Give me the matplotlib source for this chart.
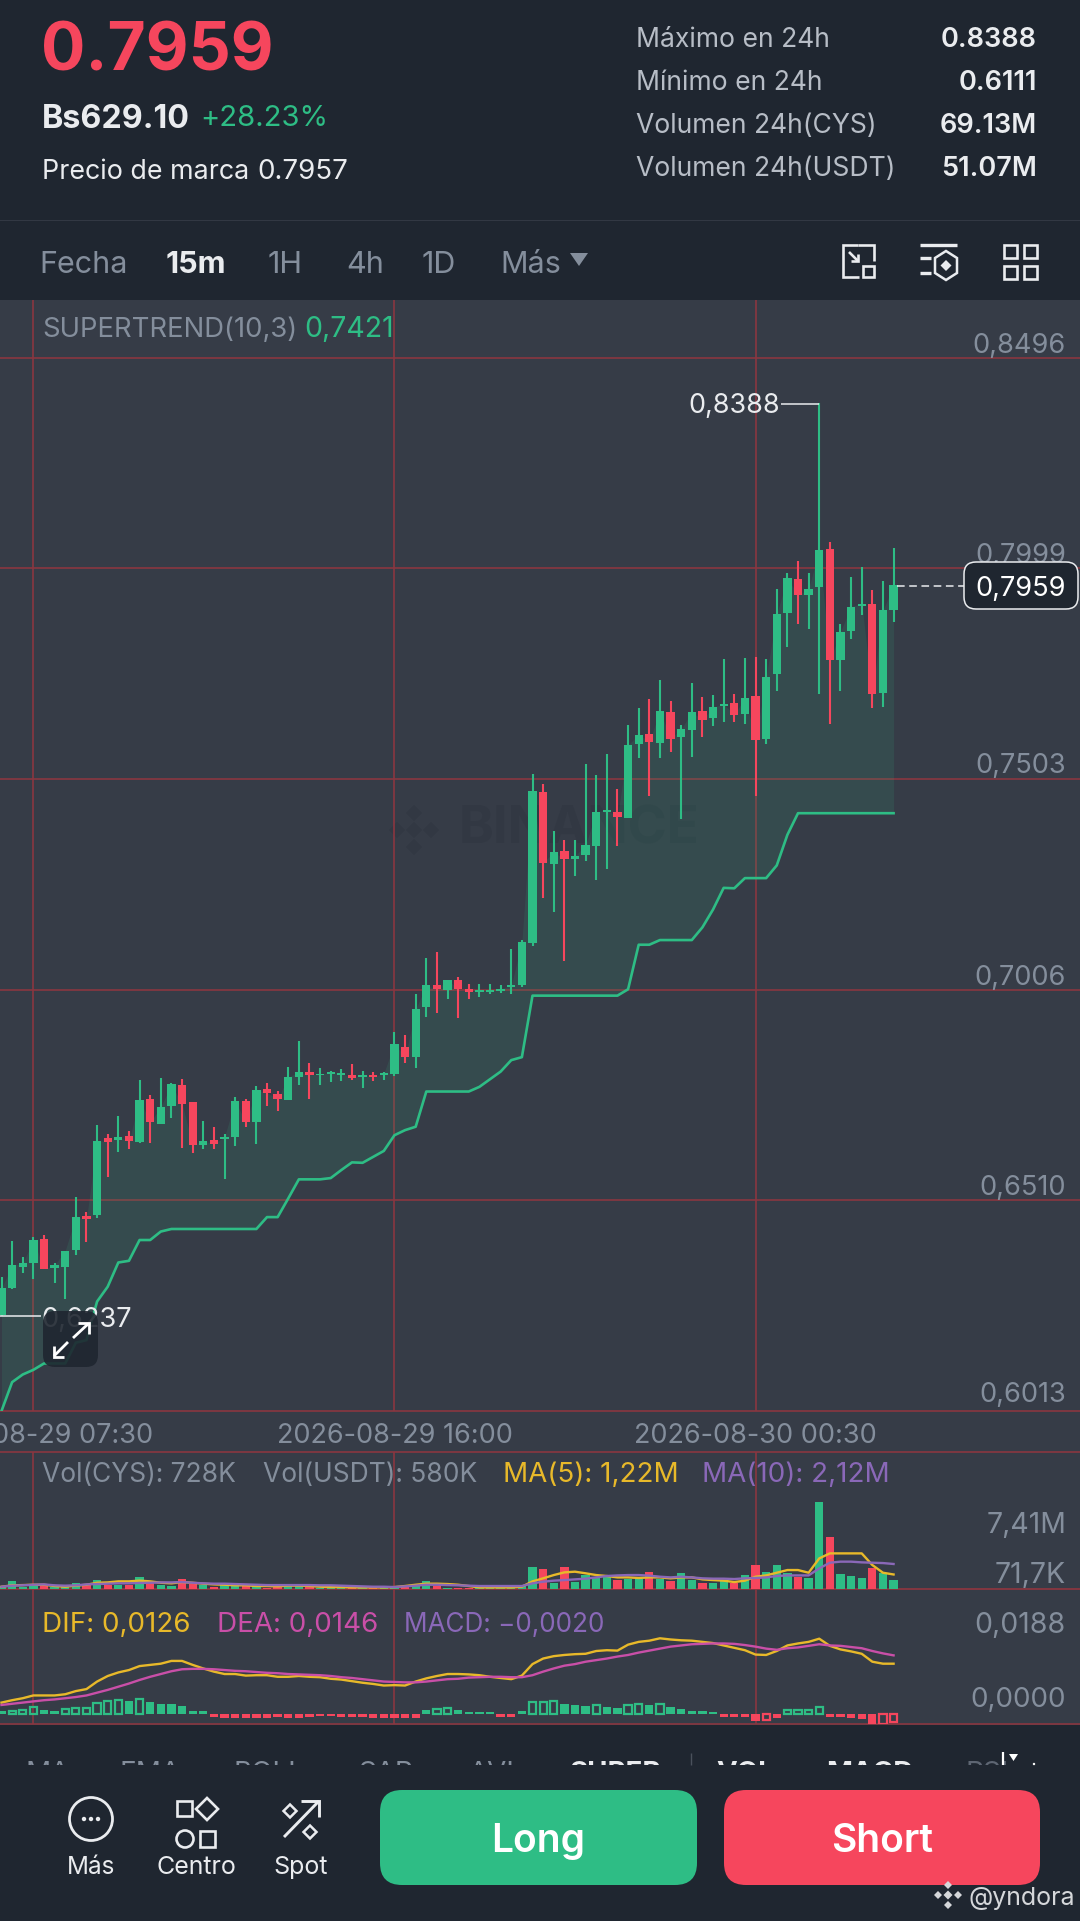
import matplotlib
matplotlib.use("Agg")
import matplotlib.pyplot as plt
from matplotlib.patches import FancyBboxPatch, Rectangle, Circle, Polygon
import numpy as np

plt.rcParams['font.family'] = ['Inter', 'DejaVu Sans']

opens = [.6239,.6302,.6353,.6363,.6418,.6349,.6353,.6392,.6473,.6475,.6656,.6652,.6660,.6648,.6749,.6690,.6732,.6782,.6741,.6641,.6651,.6653,.6659,.6744,.6693,.6771,.6760,.6747,.6801,.6812,.6804,.6807,.6806,.6806,.6800,.6806,.6806,.6807,.6871,.6847,.6965,.7016,.7005,.7030,.7008,.7001,.7001,.7004,.7012,.7016,.7117,.7471,.7303,.7334,.7315,.7323,.7345,.7425,.7426,.7411,.7584,.7609,.7587,.7661,.7601,.7617,.7662,.7646,.7674,.7681,.7655,.7698,.7597,.7751,.7894,.7974,.7936,.7956,.8045,.7783,.7851,.7910,.7915,.7705,.7902]
highs = [.6328,.6414,.6377,.6422,.6429,.6363,.6391,.6517,.6483,.6687,.6666,.6709,.6674,.6794,.6758,.6797,.6785,.6795,.6742,.6696,.6682,.6665,.6753,.6749,.6778,.6787,.6768,.6823,.6885,.6834,.6821,.6815,.6819,.6830,.6815,.6813,.6811,.6907,.6900,.6997,.7081,.7094,.7030,.7037,.7019,.7019,.7020,.7017,.7101,.7122,.7515,.7492,.7380,.7360,.7359,.7539,.7511,.7562,.7478,.7630,.7669,.7692,.7737,.7686,.7629,.7728,.7696,.7700,.7785,.7702,.7788,.7790,.7785,.7950,.7987,.8016,.7987,.8388,.8062,.7867,.7978,.8002,.7949,.7970,.8046]
lows = [.6237,.6301,.6339,.6324,.6348,.6315,.6277,.6381,.6412,.6467,.6565,.6623,.6631,.6644,.6644,.6690,.6703,.6632,.6620,.6631,.6631,.6561,.6638,.6682,.6643,.6733,.6721,.6746,.6782,.6749,.6782,.6789,.6791,.6792,.6775,.6791,.6792,.6803,.6834,.6821,.6941,.6952,.6983,.6940,.6985,.6989,.6995,.6999,.6996,.7012,.7109,.7223,.7188,.7074,.7273,.7310,.7265,.7290,.7345,.7411,.7551,.7463,.7551,.7567,.7409,.7555,.7602,.7628,.7638,.7638,.7633,.7463,.7584,.7709,.7814,.7867,.7855,.7702,.7633,.7709,.7833,.7890,.7669,.7673,.7873]
closes = [.6302,.6356,.6361,.6416,.6348,.6357,.6391,.6471,.6465,.6650,.6648,.6658,.6649,.6747,.6693,.6730,.6783,.6736,.6641,.6649,.6643,.6659,.6744,.6693,.6770,.6763,.6748,.6800,.6812,.6805,.6808,.6810,.6810,.6797,.6805,.6800,.6809,.6879,.6847,.6960,.7016,.7007,.7030,.7007,.7001,.7005,.7005,.7008,.7016,.7118,.7474,.7305,.7331,.7313,.7321,.7347,.7425,.7430,.7412,.7583,.7607,.7591,.7663,.7598,.7620,.7661,.7642,.7672,.7679,.7654,.7694,.7595,.7743,.7892,.7976,.7936,.7951,.8042,.7782,.7850,.7909,.7916,.7703,.7900,.7959]
supertrend = [.6013,.6081,.6099,.6110,.6125,.6125,.6125,.6174,.6180,.6271,.6306,.6363,.6367,.6416,.6416,.6436,.6442,.6442,.6442,.6442,.6442,.6442,.6442,.6442,.6442,.6470,.6470,.6514,.6559,.6559,.6559,.6562,.6581,.6599,.6598,.6612,.6626,.6663,.6675,.6683,.6766,.6766,.6766,.6766,.6766,.6777,.6795,.6813,.6840,.6847,.6992,.6992,.6992,.6992,.6992,.6992,.6992,.6992,.6992,.7007,.7112,.7112,.7123,.7123,.7123,.7123,.7153,.7195,.7246,.7245,.7269,.7269,.7269,.7299,.7371,.7422,.7422,.7422,.7422,.7422,.7422,.7422,.7422,.7422,.7422]
volume_m = [.23,.63,.17,.26,.31,.14,.14,.51,.31,.74,.34,.34,.29,.97,.46,.29,.23,.80,.37,.29,.11,.29,.29,.23,.23,.09,.23,.23,.23,.23,.08,.08,.08,.08,.08,.08,.08,.14,.11,.43,.69,.23,.09,.09,.07,.07,.06,.06,.09,.20,1.86,1.66,.51,1.86,.60,1.17,.89,.97,.74,.83,.83,1.40,.80,.66,1.32,.74,.46,.51,.74,.51,1.14,2.00,1.43,2.00,1.32,1.03,.89,7.41,4.40,1.23,1.09,.92,1.80,1.32,.73]
ma5_m = [.17,.29,.31,.34,.34,.23,.17,.26,.34,.51,.54,.63,.63,.69,.63,.51,.46,.57,.51,.43,.37,.34,.29,.29,.23,.23,.20,.26,.26,.23,.17,.14,.14,.11,.11,.11,.11,.14,.23,.34,.43,.43,.40,.34,.23,.11,.11,.11,.11,.17,.63,.89,1.17,1.40,1.46,1.32,1.17,1.09,.97,.97,.92,.97,.97,.89,.97,.97,.80,.74,.69,.57,.69,1.03,1.14,1.37,1.60,1.60,1.37,2.60,3.03,3.03,3.03,3.03,2.03,1.37,1.22]
ma10_m = [.17,.26,.29,.34,.37,.29,.26,.29,.37,.40,.43,.46,.46,.49,.51,.54,.54,.57,.51,.46,.43,.43,.40,.37,.34,.31,.31,.31,.31,.31,.29,.29,.26,.23,.20,.17,.17,.14,.20,.26,.34,.34,.31,.29,.26,.23,.23,.23,.23,.23,.46,.60,.69,.74,.80,.86,.97,1.09,1.14,1.17,1.17,1.12,1.03,.97,1.03,.97,.89,.86,.86,.83,.89,.92,.97,1.09,1.14,1.14,1.14,1.74,2.23,2.32,2.32,2.26,2.23,2.20,2.12]
dif = [.0028,.0034,.0039,.0046,.0046,.0046,.0049,.0057,.0062,.0081,.0095,.0104,.0110,.0120,.0123,.0126,.0133,.0133,.0123,.0114,.0106,.0100,.0100,.0096,.0097,.0097,.0093,.0093,.0095,.0093,.0092,.0088,.0086,.0082,.0078,.0075,.0071,.0072,.0071,.0081,.0089,.0095,.0100,.0100,.0099,.0097,.0093,.0090,.0087,.0096,.0125,.0139,.0145,.0148,.0150,.0151,.0158,.0160,.0159,.0174,.0181,.0184,.0190,.0187,.0185,.0184,.0181,.0178,.0172,.0166,.0160,.0149,.0148,.0158,.0172,.0177,.0181,.0189,.0171,.0162,.0157,.0151,.0131,.0126,.0126]
dea = [.0022,.0025,.0028,.0031,.0034,.0036,.0039,.0042,.0046,.0053,.0060,.0068,.0076,.0085,.0093,.0100,.0107,.0112,.0113,.0113,.0112,.0110,.0108,.0107,.0105,.0103,.0102,.0100,.0099,.0098,.0097,.0095,.0092,.0090,.0087,.0084,.0081,.0080,.0079,.0079,.0081,.0084,.0087,.0088,.0091,.0092,.0093,.0093,.0092,.0092,.0097,.0106,.0114,.0121,.0125,.0131,.0135,.0139,.0144,.0148,.0154,.0159,.0164,.0169,.0172,.0175,.0176,.0177,.0177,.0176,.0173,.0169,.0164,.0161,.0165,.0167,.0171,.0175,.0172,.0171,.0168,.0165,.0158,.0152,.0147]
macd_hist = [.0007,.0008,.0010,.0017,.0010,.0008,.0012,.0014,.0015,.0027,.0032,.0034,.0031,.0036,.0029,.0025,.0025,.0019,.0008,.0006,-.0008,-.0010,-.0012,-.0010,-.0012,-.0012,-.0008,-.0011,-.0012,-.0008,-.0007,-.0007,-.0008,-.0008,-.0009,-.0011,-.0011,-.0011,-.0010,-.0010,.0010,.0012,.0015,.0010,.0005,.0004,.0005,-.0008,-.0008,.0007,.0029,.0029,.0032,.0025,.0021,.0019,.0021,.0018,.0014,.0021,.0024,.0021,.0024,.0016,.0011,.0008,.0006,.0004,-.0008,-.0008,-.0009,-.0018,-.0017,-.0010,.0010,.0010,.0010,.0017,-.0008,-.0009,-.0011,-.0013,-.0027,-.0026,-.0022]
macd_hollow = [0,1,1,1,0,0,1,1,1,1,1,1,0,1,0,0,0,0,0,0,0,0,0,0,0,0,0,0,0,0,0,0,0,0,0,0,0,0,0,0,0,1,1,0,0,0,0,0,0,0,1,1,1,0,0,0,1,0,0,1,1,0,1,0,0,0,0,0,0,0,0,0,1,0,1,1,1,1,0,0,0,0,0,1,1]

price_ticks = [.8496,.7999,.7503,.7006,.6510,.6013]
price_labels = ['0,8496','0,7999','0,7503','0,7006','0,6510','0,6013']
time_ticks = [3, 37, 71]
time_labels = ['2026-08-29 07:30','2026-08-29 16:00','2026-08-30 00:30']

UP, DOWN = '#2EBD85', '#F6465D'
BG, PANEL = '#363C47', '#1F2630'
GRID = '#8A3640'
GRAY, LGRAY = '#848E9C', '#B7BDC6'
YEL, MAG, PUR = '#E8B92A', '#C94FA8', '#8A68B8'
WMK = '#323843'
W, H = 1080, 1921

fig = plt.figure(figsize=(W/100, H/100), dpi=100, facecolor=PANEL)
def make_ax(top, bottom, z):
    a = fig.add_axes([0, 1-bottom/H, 1, (bottom-top)/H], zorder=z)
    a.patch.set_alpha(0)
    a.set_axis_off()
    return a
def diamond(a,cx,cy,r,z=6,**kw):
    a.add_patch(Polygon([(cx,cy-r),(cx+r,cy),(cx,cy+r),(cx-r,cy)],closed=True,zorder=z,**kw))

bg = fig.add_axes([0,0,1,1], zorder=0); bg.set_xlim(0,W); bg.set_ylim(H,0); bg.set_axis_off()
bg.add_patch(Rectangle((0,300),W,1425,fc=BG,ec='none'))
bg.add_patch(Rectangle((0,219.5),W,1.2,fc='#323843',ec='none'))
bg.plot([0,W],[1452,1452],color=GRID,lw=1.2)
# watermark
bg.text(459,830,'BINANCE',fontsize=38,fontweight='bold',color=WMK,va='center',ha='left')
diamond(bg,414,830,8,fc=WMK,ec='none')
for dx,dy in ((-17,0),(17,0),(0,-17),(0,17)):
    diamond(bg,414+dx,830+dy,8,fc=WMK,ec='none')

k = np.arange(len(closes))
xlim = ((0-1.5)/10.62, (W-1.5)/10.62)
o,h_,l,c = map(np.array,(opens,highs,lows,closes))
up = c >= o
cols = [UP if u else DOWN for u in up]

PX = 0.0002357
ax = make_ax(300,1411,1); ax.set_xlim(*xlim); ax.set_ylim(.6013, .6013+1111*PX)
for t in price_ticks:
    ax.axhline(t,color=GRID,lw=1.2,zorder=1,clip_on=False)
for t in time_ticks:
    ax.axvline(t,color=GRID,lw=1.2,zorder=1)
st = np.array(supertrend)
ax.fill_between(k,st,c,color=UP,alpha=.12,lw=0,zorder=2)
ax.plot(k,st,color=UP,lw=1.9,zorder=3,solid_joinstyle='round')
ax.vlines(k,l,h_,colors=cols,lw=1.5,zorder=4)
ax.bar(k,np.maximum(np.abs(c-o),.0004),bottom=np.minimum(o,c),width=.78,color=cols,zorder=5,lw=0)

VPX = 0.0858
av = make_ax(1452,1588.7,1); av.set_xlim(*xlim); av.set_ylim(0,136.7*VPX)
for t in time_ticks:
    av.axvline(t,color=GRID,lw=1.2,zorder=1)
av.bar(k,volume_m,width=.78,color=cols,zorder=2,lw=0)
av.plot(k,ma5_m,color=YEL,lw=1.7,zorder=3)
av.plot(k,ma10_m,color=PUR,lw=1.7,zorder=4)
av.axhline(0,color=GRID,lw=1.3,zorder=1,clip_on=False)

MPX = 0.000252
am = make_ax(1588.7,1724.3,1); am.set_xlim(*xlim); am.set_ylim(-10.6*MPX,125*MPX)
for t in time_ticks:
    am.axvline(t,color=GRID,lw=1.2,zorder=1)
hist = np.array(macd_hist)
hc = [UP if v>=0 else DOWN for v in hist]
for i,v in enumerate(hist):
    if macd_hollow[i]:
        am.bar(i,v,width=.68,fc='none',ec=hc[i],lw=1.6,zorder=2)
    else:
        am.bar(i,v,width=.78,color=hc[i],lw=0,zorder=2)
am.plot(k,dif,color=YEL,lw=1.7,zorder=3)
am.plot(k,dea,color=MAG,lw=1.7,zorder=4)
am.axhline(-10.6*MPX,color=GRID,lw=1.2,zorder=1,clip_on=False)

ui = fig.add_axes([0,0,1,1], zorder=5); ui.set_xlim(0,W); ui.set_ylim(H,0); ui.set_axis_off(); ui.patch.set_alpha(0)
def T(x,y,s,size,color,ha='left',weight='normal',z=6):
    return ui.text(x,y,s,fontsize=size,color=color,ha=ha,va='center_baseline',fontweight=weight,zorder=z)
def L(xs,ys,color='#EAECEF',lw=1.8,z=6,ls='-'):
    ui.plot(xs,ys,color=color,lw=lw,zorder=z,ls=ls,solid_capstyle='butt',solid_joinstyle='miter')

# header
T(41,46,'0.7959',47.5,DOWN,weight='bold')
T(42,116,'Bs629.10',23.2,'#EAECEF',weight='bold')
T(200,116,'+28.23%',21,UP)
T(42,169,'Precio de marca',19.3,'#EAECEF')
T(257,169,'0.7957',20,'#EAECEF')
for y,a,b in zip((37,80,123,166),('Máximo en 24h','Mínimo en 24h','Volumen 24h(CYS)','Volumen 24h(USDT)'),('0.8388','0.6111','69.13M','51.07M')):
    T(636,y,a,19.1,LGRAY)
    T(1037,y,b,19.5,'#EAECEF',ha='right',weight='semibold')
# tabs
for x,s,cc,wt in ((39,'Fecha',GRAY,'normal'),(166,'15m','#EAECEF','bold'),(268,'1H',GRAY,'normal'),(346,'4h',GRAY,'normal'),(422,'1D',GRAY,'normal'),(500,'Más',GRAY,'normal')):
    T(x,262,s,22,cc,weight=wt)
ui.add_patch(Polygon([(570,253),(588,253),(579,266)],closed=True,fc=GRAY,ec='none',zorder=6))
# header icons
ic='#EAECEF'
L([859,843,843,858],[277,277,245,245],ic,1.9); L([858,874,874],[245,245,261],ic,1.9)
ui.add_patch(Rectangle((863,266),11,11,fc='none',ec=ic,lw=1.9,zorder=6))
L([849,858],[252,261],ic,1.9); L([851,858,858],[261,261,254],ic,1.9)
L([920,957],[245,245],ic,2.4); L([920,931],[258,258],ic,2.4); L([920,931],[273,273],ic,2.4)
ui.add_patch(Polygon([(946,251),(957,258),(957,273),(946,280),(935,273),(935,258)],closed=True,fc='none',ec=ic,lw=1.8,zorder=6))
diamond(ui,946,265.5,5.5,fc=ic,ec='none')
for x0 in (1004,1024):
    for y0 in (245,266):
        ui.add_patch(Rectangle((x0,y0),12.5,12.5,fc='none',ec=ic,lw=1.9,zorder=6))

# chart labels
T(42,327,'SUPERTREND(10,3)',19.8,GRAY); T(304,327,'0,7421',20.5,UP)
for y,s in zip((343,553,763,975,1185,1392),price_labels):
    T(1066,y,s,19.6,GRAY,ha='right')
for t,s in zip(time_ticks,time_labels):
    T(1.5+10.62*t,1433,s,19.5,GRAY,ha='center')
T(780,403.5,'0,8388',19.4,'#EAECEF',ha='right')
L([781,819],[403.5,403.5],'#EAECEF',1.1)
L([0,41],[1316,1316],'#EAECEF',1.1)
T(41,1317,'0,6237',19.6,'#EAECEF')
ui.add_patch(FancyBboxPatch((43+10,1311+10),55-20,56-20,boxstyle='round,pad=10,rounding_size=12',fc=PANEL,ec='none',alpha=.9,zorder=7))
L([73,88],[1338,1324],'white',2,z=8); L([78,89,89],[1323,1323,1334],'white',2,z=8)
L([68,54],[1342,1356],'white',2,z=8); L([64,54,54],[1357,1357,1346],'white',2,z=8)
# last price tag
L([897,964],[586,586],'#EAECEF',1.1,ls=(0,(5,3)))
ui.add_patch(FancyBboxPatch((976,574),90,23,boxstyle='round,pad=12,rounding_size=12',fc=PANEL,ec='#EAECEF',lw=1.1,zorder=6))
T(1021,586,'0,7959',19.6,'white',ha='center',z=7)
# volume / macd legends
T(42,1472,'Vol(CYS): 728K',19,GRAY); T(263,1472,'Vol(USDT): 580K',19,GRAY)
T(503,1472,'MA(5): 1,22M',20,YEL); T(702,1472,'MA(10): 2,12M',20,PUR)
T(1066,1523,'7,41M',20.5,GRAY,ha='right'); T(1066,1572,'71,7K',20.5,GRAY,ha='right')
T(42,1622,'DIF: 0,0126',20,YEL); T(217,1622,'DEA: 0,0146',20,MAG); T(404,1622,'MACD: \u22120,0020',18.8,PUR)
T(1066,1622,'0,0188',20.5,GRAY,ha='right'); T(1066,1697,'0,0000',20,GRAY,ha='right')

# bottom panel
ui.add_patch(Rectangle((0,1724.8),W,200,fc=PANEL,ec='none',zorder=2))
for x,s,cc,wt in ((26,'MA',GRAY,'normal'),(120,'EMA',GRAY,'normal'),(233,'BOLL',GRAY,'normal'),(358,'SAR',GRAY,'normal'),(468,'AVL',GRAY,'normal'),(570,'SUPER','#EAECEF','bold'),(716,'VOL','#EAECEF','bold'),(826,'MACD','#EAECEF','bold'),(966,'RSI','#5E6673','normal')):
    T(x,1771,s,20,cc,weight=wt,z=3)
ui.add_patch(Rectangle((0,1765),W,160,fc=PANEL,ec='none',zorder=4))
L([691,691],[1753,1765],'#4A515C',1,z=5)
L([1002.5,1002.5],[1752,1765],'white',1.6,z=5)
ui.add_patch(Polygon([(1009,1754),(1018,1754),(1013.5,1761)],closed=True,fc='white',ec='none',zorder=5))
ui.add_patch(Circle((1034,1764),1.2,fc='white',ec='none',zorder=5))
for x0,x1,cc,s in ((380,697,UP,'Long'),(724,1040,DOWN,'Short')):
    ui.add_patch(FancyBboxPatch((x0+22,1790+22),x1-x0-44,95-44,boxstyle='round,pad=22,rounding_size=22',fc=cc,ec='none',zorder=6))
    T((x0+x1)/2,1838,s,28,'white',ha='center',weight='semibold',z=7)
# left icons
ui.add_patch(Circle((91,1819),21.5,fc='none',ec=ic,lw=2,zorder=6))
for dx in (-7,0,7):
    ui.add_patch(Circle((91+dx,1819),2.2,fc=ic,ec='none',zorder=6))
T(91,1865,'Más',17.5,ic,ha='center')
ui.add_patch(Rectangle((177,1801),15,15,fc='none',ec=ic,lw=1.9,zorder=6))
diamond(ui,207,1809,11,fc='none',ec=ic,lw=1.9)
ui.add_patch(Circle((185,1839),8.5,fc='none',ec=ic,lw=1.9,zorder=6))
ui.add_patch(Rectangle((200,1831),15,16,fc='none',ec=ic,lw=1.9,zorder=6))
T(196,1865,'Centro',18,ic,ha='center')
L([284,319],[1837,1801],ic,2.1); L([301,319,319],[1801,1801,1817],ic,2.1)
diamond(ui,290,1811,6.5,fc='none',ec=ic,lw=1.8)
diamond(ui,310,1832,6.5,fc='none',ec=ic,lw=1.8)
T(301,1865,'Spot',18,ic,ha='center')
# user watermark
wm='#D5D7DA'
diamond(ui,948,1895,4.5,z=8,fc=wm,ec='none')
for dx,dy in ((-10,0),(10,0),(0,-10),(0,10)):
    diamond(ui,948+dx,1895+dy,4,z=8,fc=wm,ec='none')
T(968,1896,'@yndora',18,wm,z=8)

fig.savefig('out.png',dpi=100,facecolor=PANEL)
